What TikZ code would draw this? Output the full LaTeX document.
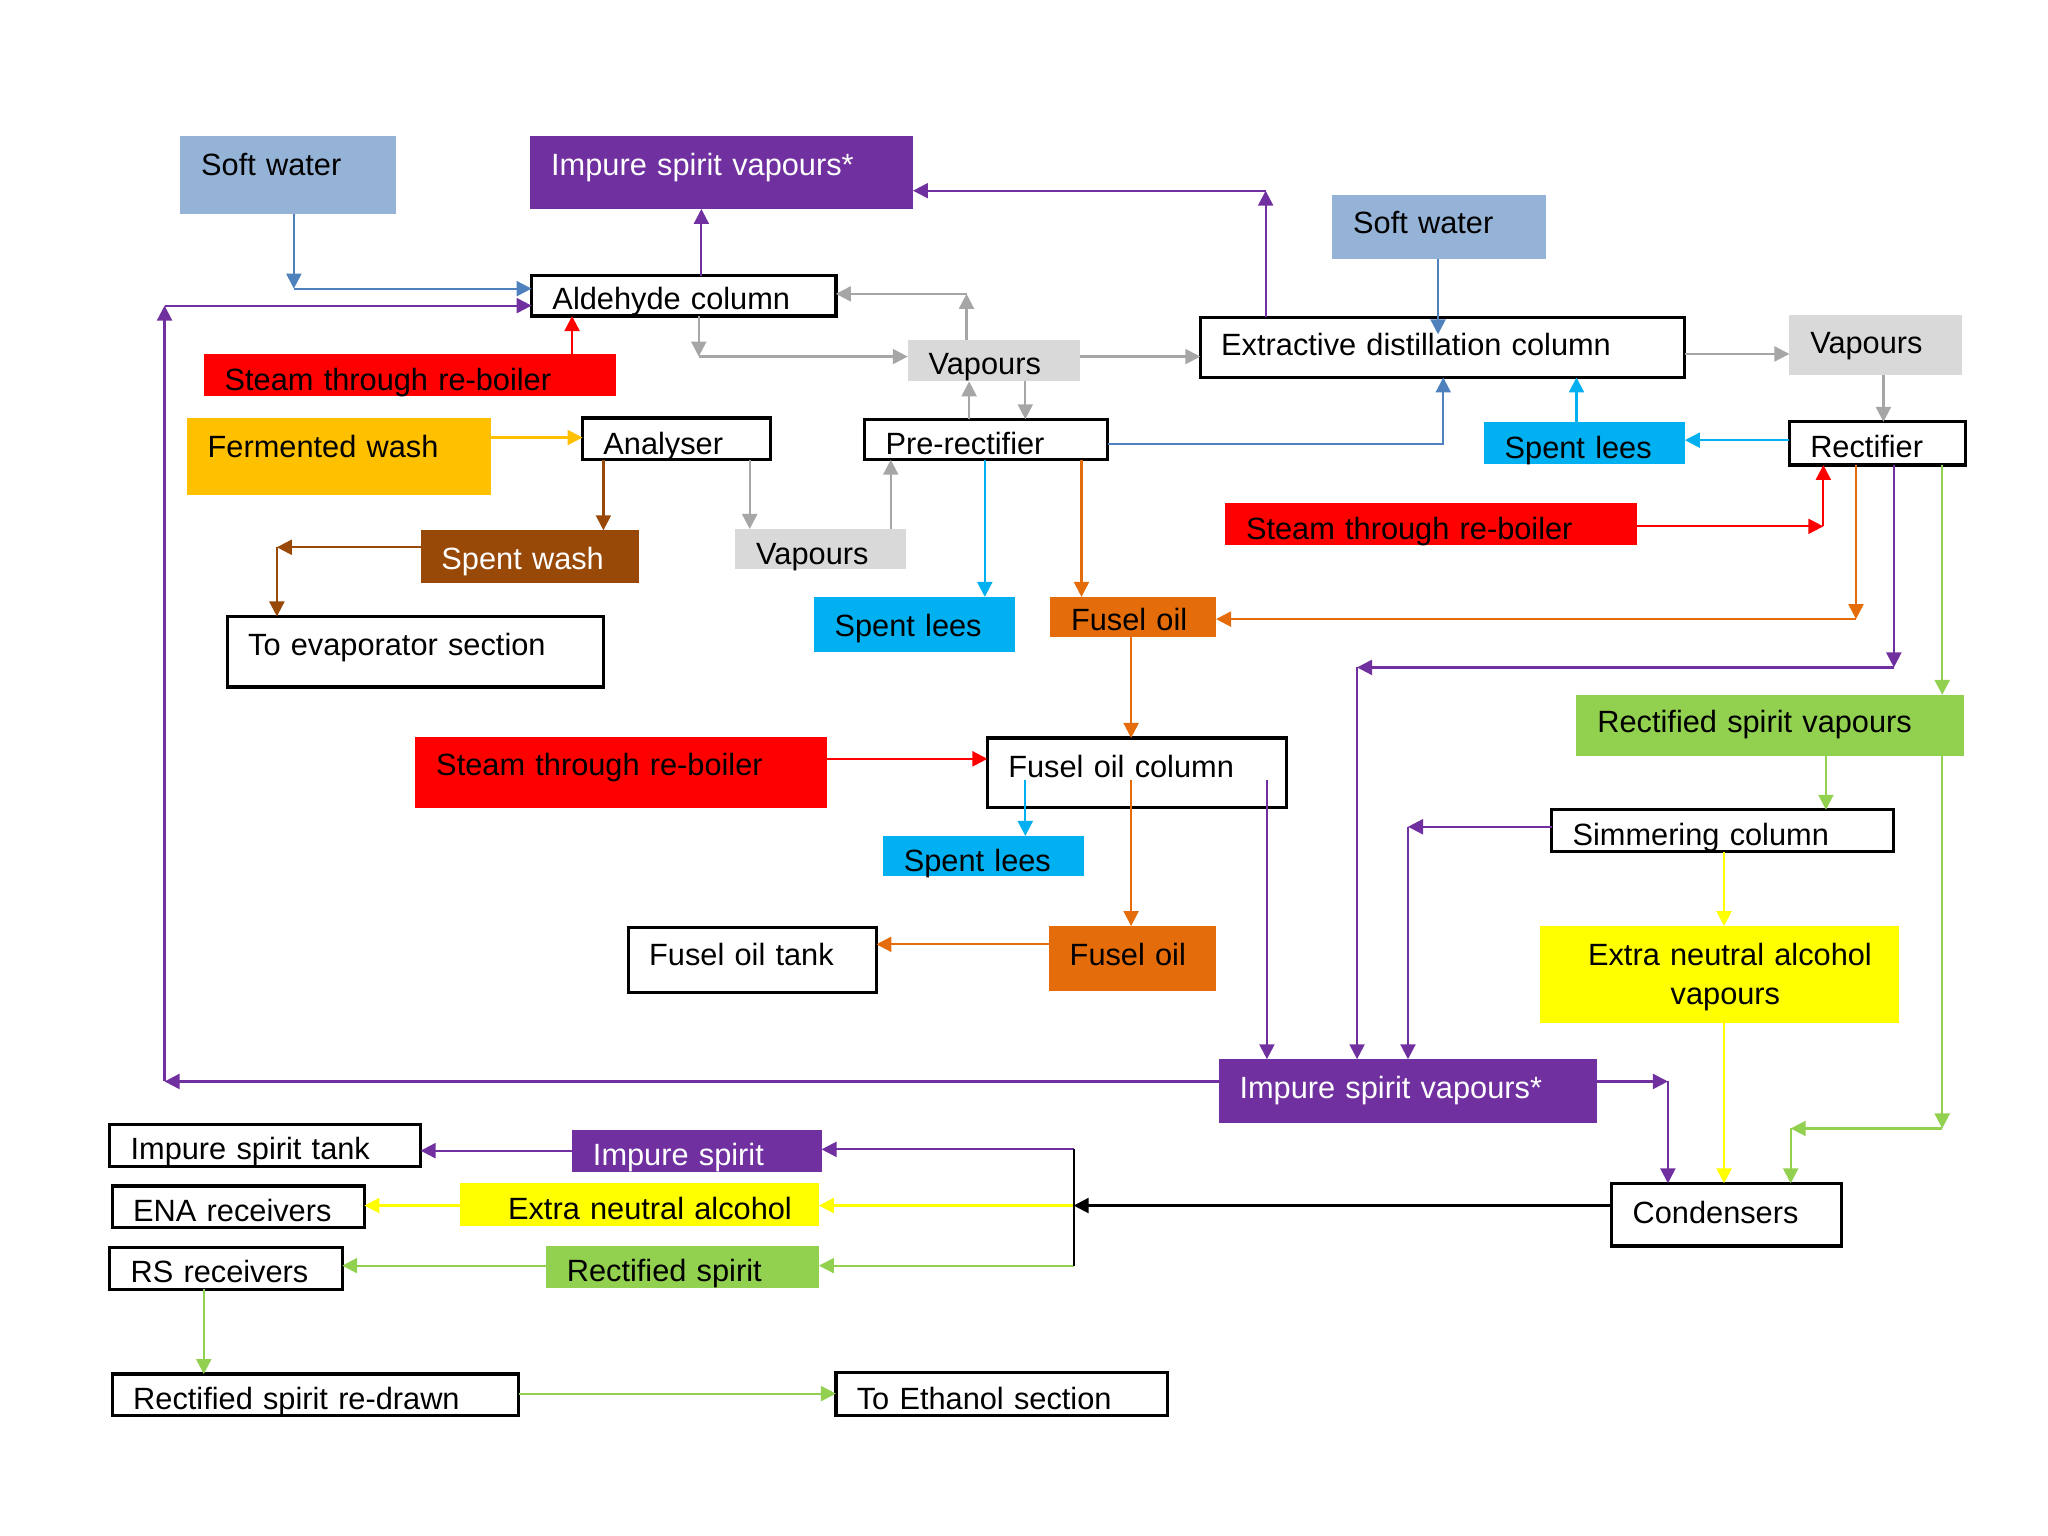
\documentclass[tikz,border=0pt]{standalone}
\usepackage{fontspec}
\setmainfont{Liberation Sans}
\usetikzlibrary{arrows.meta}
\newdimen\uu \uu=0.013061cm
\definecolor{cSoft}{HTML}{95B3D7}
\definecolor{cPurp}{HTML}{7030A0}
\definecolor{cRed}{HTML}{FF0000}
\definecolor{cFw}{HTML}{FFC000}
\definecolor{cBrown}{HTML}{984807}
\definecolor{cGrayBox}{HTML}{D9D9D9}
\definecolor{cGrayLine}{HTML}{A6A6A6}
\definecolor{cCyan}{HTML}{00B0F0}
\definecolor{cOrange}{HTML}{E46C0A}
\definecolor{cGreen}{HTML}{92D050}
\definecolor{cYellow}{HTML}{FFFF00}
\definecolor{cBlue}{HTML}{4F81BD}
\newcommand\bx[9][]{%
  \pgfmathsetlengthmacro\bxW{(#6-#4)*\uu}%
  \pgfmathsetlengthmacro\bxH{(#7-#5)*\uu}%
  \pgfmathsetlengthmacro\bxTW{(#6-#4-32)*\uu}%
  \pgfmathsetlengthmacro\bxTH{#8*\uu}%
  \pgfmathsetlengthmacro\bxTD{(#7-#5-#8)*\uu}%
  \pgfmathsetlengthmacro\bxXS{16*\uu}%
  \node[#3, anchor=north west, inner ysep=0pt, inner xsep=\bxXS, outer sep=0pt,
        minimum width=\bxW, minimum height=\bxH, text width=\bxTW,
        text height=\bxTH, text depth=\bxTD, align=left, #1] (#2) at (#4,#5) {#9};%
}
\begin{document}
\begin{tikzpicture}[x=0.013061cm, y=-0.013061cm,
  every node/.style={font=\fontsize{8.75pt}{11.1pt}\selectfont},
  wbox/.style={draw=black, line width=0.9pt, fill=white},
  softbox/.style={fill=cSoft},
  purpbox/.style={fill=cPurp, text=white},
  redbox/.style={fill=cRed},
  fwbox/.style={fill=cFw},
  brownbox/.style={fill=cBrown, text=white},
  graybox/.style={fill=cGrayBox},
  cyanbox/.style={fill=cCyan},
  orbox/.style={fill=cOrange},
  greenbox/.style={fill=cGreen},
  yelbox/.style={fill=cYellow},
  ar/.style={-{Triangle[length=0.15cm,width=0.15cm]}},
  ln/.style={line width=0.63pt},
  purpL/.style={ln, draw=cPurp},
  redL/.style={ln, draw=cRed},
  grayL/.style={ln, draw=cGrayLine},
  blueL/.style={ln, draw=cBlue},
  fwL/.style={ln, draw=cFw},
  brownL/.style={ln, draw=cBrown},
  cyanL/.style={ln, draw=cCyan},
  orL/.style={ln, draw=cOrange},
  greenL/.style={ln, draw=cGreen},
  yelL/.style={ln, draw=cYellow},
  blackL/.style={ln, draw=black},
]
\useasboundingbox (0,0) rectangle (1568,1176);
\fill[white] (0,0) rectangle (1568,1176);

% boxes
\bx{sw1}{softbox}{138}{104}{303}{164}{30}{Soft water}
\bx{isvt}{purpbox}{406}{104}{699}{160}{30}{Impure spirit vapours*}
\bx{ald}{wbox}{407}{211}{640}{242}{26}{Aldehyde column}
\bx{st1}{redbox}{156}{271}{472}{303}{28}{Steam through re-boiler}
\bx{fw}{fwbox}{143}{320}{376}{379}{30}{Fermented wash}
\bx{ana}{wbox}{446}{320}{590}{352}{28}{Analyser}
\bx{spw}{brownbox}{322}{406}{489}{446}{30}{Spent wash}
\bx{evap}{wbox}{174}{472}{462}{526}{30}{To evaporator section}
\bx{vap1}{graybox}{695}{260}{827}{292}{27}{Vapours}
\bx{pre}{wbox}{662}{321}{848}{352}{27}{Pre-rectifier}
\bx{vap2}{graybox}{563}{405}{694}{436}{27}{Vapours}
\bx{sl1}{cyanbox}{623}{457}{777}{499}{30}{Spent lees}
\bx{fo1}{orbox}{804}{457}{931}{488}{26}{Fusel oil}
\bx{sw2}{softbox}{1020}{149}{1184}{198}{30}{Soft water}
\bx{edc}{wbox}{919}{243}{1290}{289}{29}{Extractive distillation column}
\bx{vap3}{graybox}{1370}{241}{1502}{287}{30}{Vapours}
\bx{sl2}{cyanbox}{1136}{323}{1290}{355}{28}{Spent lees}
\bx{rect}{wbox}{1370}{323}{1505}{356}{27}{Rectifier}
\bx{st2}{redbox}{938}{385}{1253}{417}{28}{Steam through re-boiler}
\bx{rsv}{greenbox}{1207}{532}{1504}{579}{29}{Rectified spirit vapours}
\bx{st3}{redbox}{318}{564}{633}{619}{30}{Steam through re-boiler}
\bx{foc}{wbox}{756}{565}{985}{618}{30}{Fusel oil column}
\bx{sl3}{cyanbox}{676}{640}{830}{671}{27}{Spent lees}
\bx{sim}{wbox}{1188}{620}{1450}{652}{27}{Simmering column}
\bx{fot}{wbox}{481}{710}{671}{760}{29}{Fusel oil tank}
\bx{fo2}{orbox}{803}{709}{931}{759}{30}{Fusel oil}
\bx[align=center]{enav}{yelbox}{1179}{709}{1454}{783}{30}{\hspace*{16\uu}Extra neutral alcohol\\\hspace*{9\uu}vapours}
\bx{isvb}{purpbox}{933}{811}{1223}{860}{30}{Impure spirit vapours*}
\bx{ist}{wbox}{84}{861}{322}{893}{27}{Impure spirit tank}
\bx{isp}{purpbox}{438}{865}{629}{897}{27}{Impure spirit}
\bx{enar}{wbox}{86}{908}{279}{940}{27}{ENA receivers}
\bx{ena}{yelbox}{352}{906}{627}{939}{28}{\hspace*{21\uu}Extra neutral alcohol}
\bx{rsr}{wbox}{84}{955}{262}{987}{27}{RS receivers}
\bx{rs}{greenbox}{418}{954}{627}{986}{27}{Rectified spirit}
\bx{cond}{wbox}{1234}{906}{1410}{954}{31}{Condensers}
\bx{rsrd}{wbox}{86}{1052}{397}{1084}{27}{Rectified spirit re-drawn}
\bx{eth}{wbox}{640}{1051}{894}{1084}{28}{To Ethanol section}

% connectors
\draw[blueL, ar] (sw1.south -| 225,0) -- (225,221);
\draw[blueL, ar] (225,221) -- (ald.west |- 0,221);
\draw[purpL, ar] (isvb.west |- 0,828) -- (126,828);
\draw[purpL, ar] (126,828) -- (126,234);
\draw[purpL, ar] (126,234) -- (ald.west |- 0,234);
\draw[purpL, ar] (ald.north -| 537,0) -- (isvt.south -| 537,0);
\draw[redL, ar] (st1.north -| 438,0) -- (ald.south -| 438,0);
\draw[grayL, ar] (ald.south -| 535,0) -- (535,273);
\draw[grayL, ar] (535,273) -- (vap1.west |- 0,273);
\draw[grayL, ar] (vap1.north -| 740,0) -- (740,225);
\draw[grayL, ar] (740,225) -- (ald.east |- 0,225);
\draw[grayL, ar] (vap1.east |- 0,273) -- (edc.west |- 0,273);
\draw[grayL, ar] (pre.north -| 742,0) -- (vap1.south -| 742,0);
\draw[grayL, ar] (vap1.south -| 785,0) -- (pre.north -| 785,0);
\draw[fwL, ar] (fw.east |- 0,335) -- (ana.west |- 0,335);
\draw[brownL, ar] (ana.south -| 462,0) -- (spw.north -| 462,0);
\draw[brownL, ar] (spw.west |- 0,419) -- (212,419);
\draw[brownL, ar] (212,419) -- (evap.north -| 212,0);
\draw[grayL, ar] (ana.south -| 574,0) -- (vap2.north -| 574,0);
\draw[grayL, ar] (vap2.north -| 682,0) -- (pre.south -| 682,0);
\draw[cyanL, ar] (pre.south -| 754,0) -- (sl1.north -| 754,0);
\draw[orL, ar] (pre.south -| 828,0) -- (fo1.north -| 828,0);
\draw[blueL, ar] (pre.east |- 0,340) -- (1105,340) -- (edc.south -| 1105,0);
\draw[purpL, ar] (edc.north -| 969,0) -- (969,146);
\draw[purpL, ar] (969,146) -- (isvt.east |- 0,146);
\draw[blueL, ar] (sw2.south -| 1101,0) -- (1101,256);
\draw[grayL, ar] (edc.east |- 0,271) -- (vap3.west |- 0,271);
\draw[grayL, ar] (vap3.south -| 1442,0) -- (rect.north -| 1442,0);
\draw[cyanL, ar] (rect.west |- 0,337) -- (sl2.east |- 0,337);
\draw[cyanL, ar] (sl2.north -| 1207,0) -- (edc.south -| 1207,0);
\draw[redL, ar] (st2.east |- 0,403) -- (1396,403);
\draw[redL, ar] (1396,403) -- (rect.south -| 1396,0);
\draw[orL, ar] (rect.south -| 1421,0) -- (1421,474);
\draw[orL, ar] (1421,474) -- (fo1.east |- 0,474);
\draw[purpL, ar] (rect.south -| 1450,0) -- (1450,511);
\draw[purpL, ar] (1450,511) -- (1039,511);
\draw[purpL, ar] (1039,511) -- (isvb.north -| 1039,0);
\draw[greenL, ar] (rect.south -| 1487,0) -- (rsv.north -| 1487,0);
\draw[orL, ar] (fo1.south -| 866,0) -- (foc.north -| 866,0);
\draw[redL, ar] (st3.east |- 0,581) -- (foc.west |- 0,581);
\draw[cyanL, ar] (785,597) -- (sl3.north -| 785,0);
\draw[orL, ar] (866,597) -- (fo2.north -| 866,0);
\draw[purpL, ar] (970,597) -- (isvb.north -| 970,0);
\draw[orL, ar] (fo2.west |- 0,723) -- (fot.east |- 0,723);
\draw[purpL, ar] (sim.west |- 0,633) -- (1078,633);
\draw[purpL, ar] (1078,633) -- (isvb.north -| 1078,0);
\draw[greenL, ar] (rsv.south -| 1398,0) -- (sim.north -| 1398,0);
\draw[yelL, ar] (sim.south -| 1320,0) -- (enav.north -| 1320,0);
\draw[yelL, ar] (enav.south -| 1320,0) -- (cond.north -| 1320,0);
\draw[purpL, ar] (isvb.east |- 0,828) -- (1277,828);
\draw[purpL, ar] (1277,828) -- (cond.north -| 1277,0);
\draw[greenL, ar] (rsv.south -| 1487,0) -- (1487,864);
\draw[greenL, ar] (1487,864) -- (1371,864);
\draw[greenL, ar] (1371,864) -- (cond.north -| 1371,0);
\coordinate (split) at (822,923);
\draw[purpL, ar] (822,880) -- (isp.east |- 0,880);
\draw[yelL, ar] (split) -- (ena.east |- 0,923);
\draw[greenL, ar] (822,969) -- (rs.east |- 0,969);
\draw[blackL] (822,880) -- (822,969);
\draw[blackL, ar] (cond.west |- 0,923) -- (split);
\draw[purpL, ar] (isp.west |- 0,881) -- (ist.east |- 0,881);
\draw[yelL, ar] (ena.west |- 0,923) -- (enar.east |- 0,923);
\draw[greenL, ar] (rs.west |- 0,969) -- (rsr.east |- 0,969);
\draw[greenL, ar] (rsr.south -| 156,0) -- (rsrd.north -| 156,0);
\draw[greenL, ar] (rsrd.east |- 0,1067) -- (eth.west |- 0,1067);
\end{tikzpicture}
\end{document}
